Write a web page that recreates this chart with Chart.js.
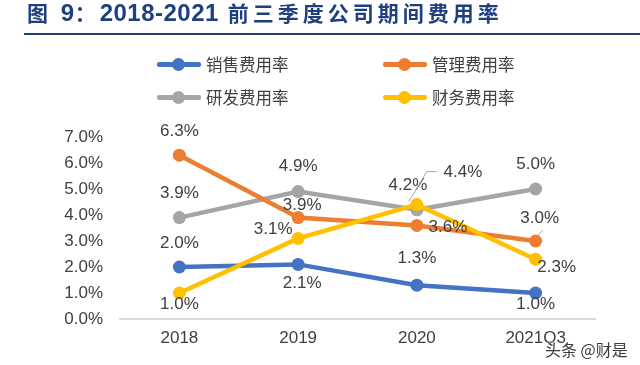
<!DOCTYPE html>
<html>
<head>
<meta charset="utf-8">
<script src="https://cdn.jsdelivr.net/npm/chart.js@4/dist/chart.umd.min.js"></script>
<style>
  body { margin: 0; background: #fff; }
  #wrap { position: relative; width: 640px; height: 365px; overflow: hidden; font-family: "Noto Sans CJK SC", sans-serif; }
  #title { position: absolute; left: 27px; top: -3px; height: 30px; line-height: 30px; font-size: 21px; font-weight: bold; color: #1f3f7f; letter-spacing: 4px; white-space: nowrap; }
  #title .n { font-family: "Liberation Sans", Arial, sans-serif; font-size: 24px; letter-spacing: 0.5px; }
  #rule { position: absolute; left: 24px; top: 33px; width: 616px; height: 2px; background: #1f3f7f; }
  #legend { position: absolute; left: 0; top: 0; width: 640px; height: 120px; }
  .item { position: absolute; height: 20px; font-size: 16.5px; color: #404040; white-space: nowrap; }
  .item i { position: absolute; left: 0; top: 8px; width: 44px; height: 5px; border-radius: 2px; }
  .item b { position: absolute; left: 15px; top: 4px; width: 13px; height: 13px; border-radius: 7px; }
  .item span { position: absolute; left: 49px; top: -2px; }
  #mark { position: absolute; left: 545px; top: 337px; font-size: 16px; color: #3a3a3a; white-space: nowrap; text-shadow: 0 0 3px #fff, 0 0 3px #fff; }
  canvas { position: absolute; left: 0; top: 0; }
</style>
</head>
<body>
<div id="wrap">
  <canvas id="c" width="640" height="365"></canvas>
  <div id="title">图 <span class="n">9</span>：<span class="n">2018-2021</span> 前三季度公司期间费用率</div>
  <div id="rule"></div>
  <div id="legend"></div>
  <div id="mark">头条 @财是</div>
</div>
<script>
// categories and series (%)
var years = ['2018', '2019', '2020', '2021Q3'];
var names = ['销售费用率', '管理费用率', '研发费用率', '财务费用率'];
var sales = [2.0, 2.1, 1.3, 1.0];
var admin = [6.3, 3.9, 3.6, 3.0];
var rnd = [3.9, 4.9, 4.2, 5.0];
var finance = [1.0, 3.1, 4.4, 2.3];
var yTicks = [0, 1, 2, 3, 4, 5, 6, 7];

var colors = ['#4472c4', '#ed7d31', '#a5a5a5', '#ffc000'];
var labelFont = '17px "Liberation Sans", Arial, sans-serif';

// where each value label sits relative to its point [dx, dy]
var labelOffsets = [
  [[0, -24], [4, 19], [0, -27], [0, 11]],
  [[0, -24], [4, -12], [31, 2], [4, -23]],
  [[0, -24], [0, -25], [-9, -24], [0, -25]],
  [[0, 11], [-25, -9], [46, -32], [21, 8]]
];

// html legend, two columns
var legendPos = [[157, 54], [383, 54], [157, 87], [383, 87]];
var legendEl = document.getElementById('legend');
names.forEach(function(n, i) {
  var d = document.createElement('div');
  d.className = 'item';
  d.style.left = legendPos[i][0] + 'px';
  d.style.top = legendPos[i][1] + 'px';
  d.innerHTML = '<i style="background:' + colors[i] + '"></i><b style="background:' + colors[i] + '"></b><span>' + n + '</span>';
  legendEl.appendChild(d);
});

var valueLabels = {
  id: 'valueLabels',
  afterDatasetsDraw: function(chart) {
    var ctx = chart.ctx;
    ctx.save();
    ctx.font = labelFont;
    ctx.fillStyle = '#404040';
    ctx.textAlign = 'center';
    ctx.textBaseline = 'middle';
    chart.data.datasets.forEach(function(ds, di) {
      var meta = chart.getDatasetMeta(di);
      meta.data.forEach(function(pt, i) {
        var off = labelOffsets[di][i];
        ctx.fillText(ds.data[i].toFixed(1) + '%', pt.x + off[0], pt.y + off[1]);
      });
    });
    // leader lines
    ctx.strokeStyle = '#a6a6a6';
    ctx.lineWidth = 1;
    var p = chart.getDatasetMeta(3).data[2];
    ctx.beginPath();
    ctx.moveTo(p.x - 8, p.y - 3);
    ctx.lineTo(p.x + 10, p.y - 33);
    ctx.lineTo(p.x + 20, p.y - 33);
    ctx.stroke();
    var q = chart.getDatasetMeta(1).data[3];
    ctx.beginPath();
    ctx.moveTo(q.x + 2, q.y - 5);
    ctx.lineTo(q.x + 7, q.y - 11);
    ctx.stroke();
    ctx.restore();
  }
};

var series = [sales, admin, rnd, finance];
var order = [4, 2, 3, 1];

new Chart(document.getElementById('c'), {
  type: 'line',
  data: {
    labels: years,
    datasets: series.map(function(s, i) {
      return {
        label: names[i],
        data: s,
        borderColor: colors[i],
        backgroundColor: colors[i],
        borderWidth: 4.5,
        pointRadius: 6.5,
        pointBorderWidth: 0,
        tension: 0,
        order: order[i]
      };
    })
  },
  options: {
    responsive: false,
    animation: false,
    layout: { padding: { left: 0, right: 45, top: 137, bottom: 0 } },
    plugins: { legend: { display: false }, tooltip: { enabled: false } },
    scales: {
      x: {
        offset: true,
        grid: { display: false, drawTicks: false },
        border: { color: '#d9d9d9', width: 2 },
        ticks: { color: '#404040', font: { size: 17, family: '"Liberation Sans", Arial, sans-serif' }, padding: 9 },
        afterFit: function(s) { s.height = 46; }
      },
      y: {
        min: 0,
        max: 7,
        afterBuildTicks: function(s) { s.ticks = yTicks.map(function(v) { return { value: v }; }); },
        grid: { display: false, drawTicks: false },
        border: { display: false },
        ticks: {
          color: '#404040',
          font: { size: 17, family: '"Liberation Sans", Arial, sans-serif' },
          padding: 17,
          callback: function(v) { return v.toFixed(1) + '%'; }
        },
        afterFit: function(s) { s.width = 120; }
      }
    }
  },
  plugins: [valueLabels]
});
</script>
</body>
</html>
